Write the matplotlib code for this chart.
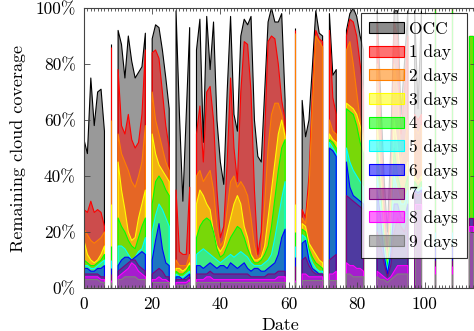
import numpy as np
import matplotlib
matplotlib.use("Agg")
import matplotlib.pyplot as plt
from matplotlib.patches import Patch
from matplotlib.colors import to_rgba

plt.rcParams['font.family'] = 'cmr10'
plt.rcParams['mathtext.fontset'] = 'cm'
plt.rcParams['axes.unicode_minus'] = False

nan = np.nan

# one value per day, nan = no acquisition that day
day = np.arange(115)

occ = [53, 48, 75, 58, 70, 71, 56, nan, 87, nan,
       92, 87, 75, 90, 81, 75, 77, 79, 91, nan,
       89, 94, 93, 85, 75, 64, nan, 99, 62, 31,
       62, 93, nan, 85, 96, 52, 97, 78, 95, 60,
       45, 37, 70, 97, 62, 56, 90, 96, 94, 97,
       60, 47, 45, 70, 95, 100, 95, 95, 98, 67,
       nan, nan, 93, nan, 67, 54, 60, 79, 99, 91,
       90, nan, 98, 76, 78, nan, nan, 92, 98, 100,
       97, 90, 85, nan, nan, nan, 99, 70, 40, 20,
       50, 99, 99, 62, 80, 99, nan, 99, 64, 99,
       nan, nan, nan, 100, nan, nan, nan, nan, 100, nan,
       nan, nan, nan, 90, 90]

d1 = [28, 27, 31, 27, 28, 27, 22, nan, 86, nan,
      78, 58, 55, 62, 53, 50, 52, 62, 85, nan,
      84, 85, 82, 70, 58, 50, nan, 35, 13, 12,
      12, 36, nan, 55, 65, 45, 70, 72, 60, 35,
      18, 22, 45, 75, 50, 38, 70, 88, 87, 70,
      35, 12, 20, 55, 88, 90, 89, 80, 67, 60,
      nan, nan, 92, nan, 28, 25, 40, 70, 92, 89,
      88, nan, 92, 68, 62, nan, nan, 90, 96, 95,
      90, 80, 70, nan, nan, nan, 95, 60, 30, 12,
      35, 95, 90, 55, 70, 90, nan, 62, 60, 62,
      nan, nan, nan, 100, nan, nan, nan, nan, 100, nan,
      nan, nan, nan, 90, 90]

d2 = [21, 19, 17, 16, 17, 18, 20, nan, 60, nan,
      55, 48, 45, 42, 38, 36, 40, 45, 58, nan,
      70, 60, 55, 50, 45, 42, nan, 10, 8, 8,
      8, 12, nan, 40, 42, 38, 40, 42, 35, 22,
      15, 17, 28, 38, 40, 36, 38, 36, 33, 25,
      15, 10, 13, 30, 50, 62, 66, 66, 62, 55,
      nan, nan, 91, nan, 25, 23, 35, 65, 90, 88,
      86, nan, 60, 56, 55, nan, nan, 85, 88, 80,
      70, 60, 55, nan, nan, nan, 80, 50, 25, 10,
      30, 80, 70, 45, 50, 60, nan, 58, 55, 58,
      nan, nan, nan, 100, nan, nan, nan, nan, 100, nan,
      nan, nan, nan, 90, 90]

d3 = [17, 12, 10, 9, 10, 12, 15, nan, 30, nan,
      45, 35, 28, 20, 17, 18, 25, 30, 35, nan,
      55, 48, 44, 42, 40, 38, nan, 7, 7, 6,
      7, 9, nan, 30, 35, 33, 30, 28, 20, 15,
      13, 15, 20, 25, 30, 33, 30, 22, 18, 12,
      10, 10, 11, 15, 25, 35, 45, 55, 60, 54,
      nan, nan, 30, nan, 23, 22, 16, 14, 12, 10,
      9, nan, 55, 53, 52, nan, nan, 66, 65, 64,
      62, 58, 52, nan, nan, nan, 60, 40, 20, 8,
      25, 60, 50, 40, 40, 45, nan, 40, 38, 40,
      nan, nan, nan, 100, nan, nan, nan, nan, 100, nan,
      nan, nan, nan, 90, 90]

d4 = [10, 9, 8, 8, 9, 10, 12, nan, 15, nan,
      25, 22, 20, 17, 15, 14, 18, 22, 25, nan,
      30, 38, 40, 38, 35, 33, nan, 6, 5, 5,
      6, 8, nan, 18, 22, 24, 25, 24, 20, 14,
      11, 12, 15, 18, 20, 22, 21, 18, 14, 11,
      9, 9, 10, 12, 15, 22, 32, 42, 50, 53,
      nan, nan, 20, nan, 21, 20, 14, 11, 9, 8,
      7, nan, 53, 52, 50, nan, nan, 64, 63, 62,
      58, 52, 48, nan, nan, nan, 50, 35, 18, 7,
      20, 50, 40, 35, 35, 40, nan, 38, 36, 38,
      nan, nan, nan, 100, nan, nan, nan, nan, 100, nan,
      nan, nan, nan, 90, 90]

d5 = [8, 8, 7, 7, 8, 9, 10, nan, 10, nan,
      15, 15, 14, 12, 10, 11, 13, 14, 18, nan,
      20, 26, 30, 28, 25, 22, nan, 5, 4, 4,
      5, 6, nan, 12, 13, 14, 13, 12, 11, 10,
      9, 10, 11, 12, 11, 12, 13, 12, 11, 9,
      8, 8, 8, 9, 10, 12, 18, 25, 32, 38,
      nan, nan, 15, nan, 19, 18, 12, 9, 7, 6,
      6, nan, 52, 50, 48, nan, nan, 50, 45, 42,
      40, 38, 36, nan, nan, nan, 40, 30, 15, 6,
      15, 40, 35, 30, 30, 35, nan, 36, 35, 36,
      nan, nan, nan, 20, nan, nan, nan, nan, 20, nan,
      nan, nan, nan, 25, 25]

d6 = [7, 7, 6, 6, 7, 7, 8, nan, 7, nan,
      8, 10, 11, 11, 10, 11, 12, 13, 12, nan,
      10, 17, 23, 14, 9, 8, nan, 4, 4, 3,
      4, 5, nan, 8, 8, 7, 8, 9, 8, 7,
      8, 8, 7, 9, 8, 7, 8, 9, 7, 6,
      7, 7, 6, 6, 7, 8, 9, 12, 18, 21,
      nan, nan, 11, nan, 16, 17, 10, 7, 6, 5,
      5, nan, 50, 49, 47, nan, nan, 45, 36, 33,
      32, 31, 30, nan, nan, nan, 35, 25, 12, 5,
      12, 30, 30, 25, 25, 30, nan, 35, 34, 35,
      nan, nan, nan, 15, nan, nan, nan, nan, 15, nan,
      nan, nan, nan, 25, 25]

d7 = [5, 5, 5, 5, 5, 4, 4, nan, 5, nan,
      6, 7, 8, 9, 10, 10, 8, 7, 6, nan,
      5, 6, 7, 6, 4, 4, nan, 3, 3, 3,
      3, 4, nan, 5, 5, 5, 5, 6, 5, 5,
      5, 5, 5, 5, 5, 5, 5, 5, 5, 4,
      4, 4, 4, 4, 5, 5, 5, 6, 6, 6,
      nan, nan, 8, nan, 10, 11, 8, 6, 5, 5,
      5, nan, 10, 11, 12, nan, nan, 33, 32, 31,
      30, 29, 28, nan, nan, nan, 20, 15, 9, 4,
      8, 20, 25, 22, 20, 25, nan, 34, 33, 34,
      nan, nan, nan, 10, nan, nan, nan, nan, 10, nan,
      nan, nan, nan, 25, 25]

d8 = [4, 4, 4, 4, 4, 3, 3, nan, 3, nan,
      4, 5, 6, 7, 9, 8, 6, 5, 4, nan,
      3, 3, 4, 3, 3, 2, nan, 2, 2, 2,
      2, 3, nan, 3, 3, 3, 4, 4, 3, 3,
      3, 3, 3, 3, 3, 3, 3, 3, 3, 3,
      3, 3, 3, 3, 3, 3, 3, 4, 4, 4,
      nan, nan, 3, nan, 5, 5, 4, 4, 4, 4,
      4, nan, 5, 5, 6, nan, nan, 9, 8, 8,
      7, 7, 6, nan, nan, nan, 6, 5, 4, 3,
      4, 6, 8, 8, 8, 8, nan, 30, 30, 30,
      nan, nan, nan, 8, nan, nan, nan, nan, 8, nan,
      nan, nan, nan, 22, 22]

d9 = [3, 3, 3, 3, 3, 2, 2, nan, 2, nan,
      3, 3, 4, 4, 4, 4, 3, 3, 3, nan,
      2, 2, 2, 2, 2, 2, nan, 1, 1, 1,
      1, 2, nan, 2, 2, 2, 2, 2, 2, 2,
      2, 2, 2, 2, 2, 2, 2, 2, 2, 2,
      2, 2, 2, 2, 2, 2, 2, 2, 2, 2,
      nan, nan, 2, nan, 3, 3, 3, 3, 3, 3,
      3, nan, 3, 3, 3, nan, nan, 5, 5, 4,
      4, 4, 4, nan, nan, nan, 4, 3, 3, 2,
      3, 4, 5, 5, 5, 5, nan, 28, 28, 28,
      nan, nan, nan, 5, nan, nan, nan, nan, 5, nan,
      nan, nan, nan, 20, 20]

labels = ['OCC', '1 day', '2 days', '3 days', '4 days',
          '5 days', '6 days', '7 days', '8 days', '9 days']
colors = ['black', 'red', (1, 0.5, 0), 'yellow', (0, 1, 0),
          'cyan', 'blue', (0.5, 0, 0.5), 'magenta', (0.5, 0.5, 0.5)]
alphas = [0.4] + [0.5] * 9

series = [occ, d1, d2, d3, d4, d5, d6, d7, d8, d9]

fig = plt.figure(figsize=(4.74, 3.31), dpi=100)
ax = fig.add_axes([84 / 474, 1 - 288 / 331, (476 - 84) / 474, 280 / 331])

for vals, c, a in zip(series, colors, alphas):
    ax.fill_between(day, 0, np.array(vals, dtype=float),
                    facecolor=to_rgba(c, a), edgecolor=c, lw=0.8)

ax.set_xlim(0, 115)
ax.set_ylim(0, 100)
ax.set_xticks([0, 20, 40, 60, 80, 100])
ax.set_xticks(np.arange(0, 116, 1), minor=True)
ax.set_xticklabels(['0', '20', '40', '60', '80', '100'], fontsize=12.5)
ax.set_yticks([0, 20, 40, 60, 80, 100])
ax.set_yticklabels(['0%', '20%', '40%', '60%', '80%', '100%'], fontsize=12.5)
ax.tick_params(which='both', direction='in', top=True, right=True,
               color='#444', width=0.6)
ax.tick_params(which='major', length=4, pad=6)
ax.tick_params(which='minor', length=2)
for s in ax.spines.values():
    s.set_color('#444')
    s.set_linewidth(0.8)

ax.set_xlabel('Date', fontsize=13, labelpad=4)
ax.set_ylabel('Remaining cloud coverage', fontsize=13, labelpad=7)

handles = [Patch(facecolor=to_rgba(c, a + 0.05), edgecolor=c, lw=0.8)
           for c, a in zip(colors, alphas)]
leg = ax.legend(handles, labels, loc='upper right',
                bbox_to_anchor=(0.977, 0.983), borderaxespad=0,
                fontsize=12.5, handlelength=2.0, handleheight=0.6,
                labelspacing=0.45, borderpad=0.5, handletextpad=0.3,
                fancybox=False)
frame = leg.get_frame()
frame.set_facecolor((1, 1, 1, 0.8))
frame.set_edgecolor('black')
frame.set_linewidth(0.8)

fig.savefig('out.png', dpi=100)
